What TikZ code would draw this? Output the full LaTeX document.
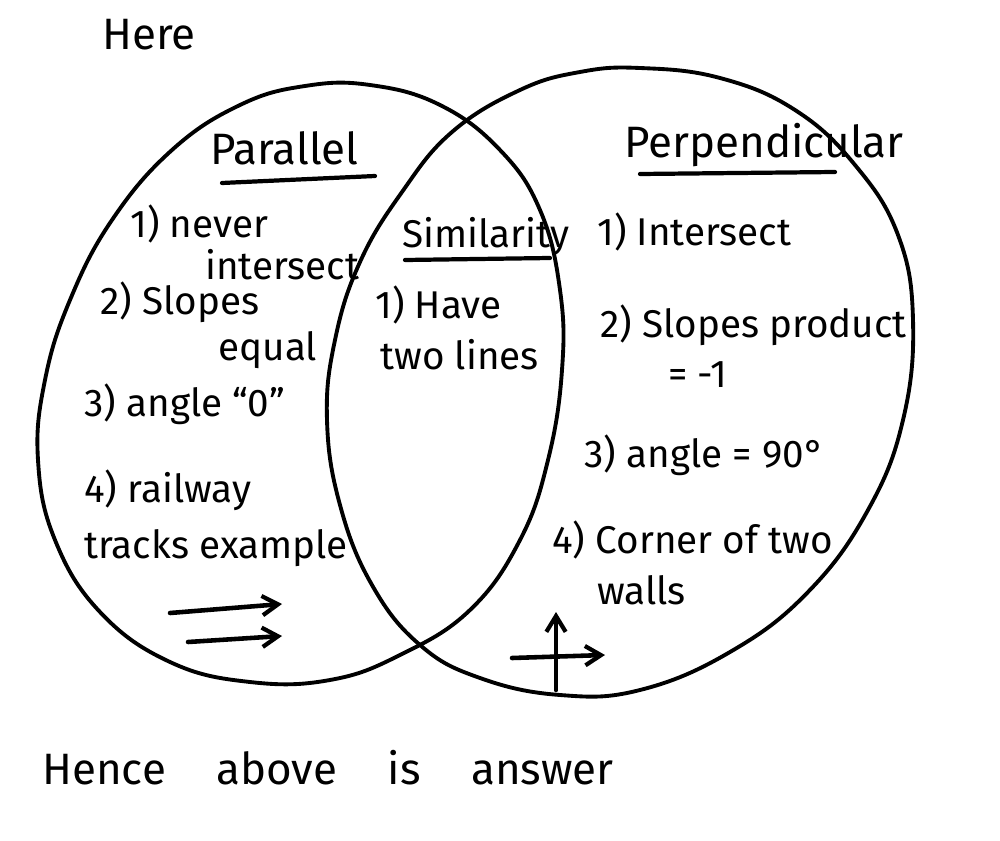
\documentclass[tikz,border=0pt]{standalone}
\usepackage{fontspec}
\setmainfont{Fira Sans}
\usetikzlibrary{arrows.meta}
\begin{document}
\begin{tikzpicture}[x=0.02cm,y=-0.02cm,
  hand/.style={font=\fontsize{22}{26}\selectfont, inner sep=0pt, anchor=west},
  big/.style={font=\fontsize{25}{30}\selectfont, inner sep=0pt, anchor=west},
  ring/.style={line width=2.2pt, line join=round},
  uline/.style={line width=2.4pt, line cap=round},
  arr/.style={line width=2.6pt, line cap=round, -{Straight Barb[length=9pt,width=11pt,line width=2.4pt]}}]
\useasboundingbox (0,0) rectangle (1000,841);
% circles
\draw[ring] plot[smooth cycle, tension=0.7] coordinates {
  (370,85) (440,105) (500,150) (540,210) (560,290) (562,370) (548,460)
  (520,540) (470,610) (400,655) (330,680) (250,682) (170,662) (100,612)
  (55,540) (38,460) (45,380) (70,300) (112,220) (172,150) (240,105) (305,86)};
\draw[ring] plot[smooth cycle, tension=0.7] coordinates {
  (640,68) (720,78) (795,110) (855,165) (898,235) (913,320) (903,420)
  (868,510) (808,592) (730,652) (640,690) (560,695) (480,678) (420,645)
  (372,585) (340,505) (327,420) (335,340) (360,262) (402,192) (452,132) (520,90) (580,72)};
% titles
\node[big] (here) at (102,35) {Here};
\node[big] (par) at (210,148) {Parallel};
\draw[uline] (222,183) -- (375,176);
\node[big] (perp) at (624,145) {Perpendicular};
\draw[uline] (640,174) -- (835,172);
\node[hand] (sim) at (402,237) {Similarity};
\draw[uline] (405,260) -- (550,258);
% middle
\node[hand] (m1) at (375,305) {1) Have};
\node[hand] (m2) at (380,355) {two lines};
% left
\node[hand] (l1) at (130,224) {1) never};
\node[hand] (l1b) at (205,265) {intersect};
\node[hand] (l2) at (100,302) {2) Slopes};
\node[hand] (l2b) at (218,350) {equal};
\node[hand] (l3) at (84,404) {3) angle ``0''};
\node[hand] (l4) at (84,490) {4) railway};
\node[hand] (l4b) at (84,548) {tracks example};
\coordinate (a1s) at (170,613); \coordinate (a1e) at (282,604);
\coordinate (a2s) at (188,642); \coordinate (a2e) at (282,636);
\draw[arr] (a1s) -- (a1e);
\draw[arr] (a2s) -- (a2e);
% right
\node[hand] (r1) at (597,232) {1) Intersect};
\node[hand] (r2) at (600,325) {2) Slopes product};
\node[hand] (r2b) at (668,375) {= -1};
\node[hand] (r3) at (584,455) {3) angle = 90\textdegree};
\node[hand] (r4) at (552,540) {4) Corner of two};
\node[hand] (r4b) at (597,590) {walls};
\coordinate (vs) at (556,690); \coordinate (ve) at (556,612);
\coordinate (hs) at (512,658); \coordinate (he) at (605,655);
\draw[arr] (vs) -- (ve);
\draw[arr] (hs) -- (he);
% bottom
\node[big] (ans) at (42,768) {Hence\hspace{1.15em}above\hspace{1.15em}is\hspace{1.15em}answer};
\end{tikzpicture}
\end{document}
